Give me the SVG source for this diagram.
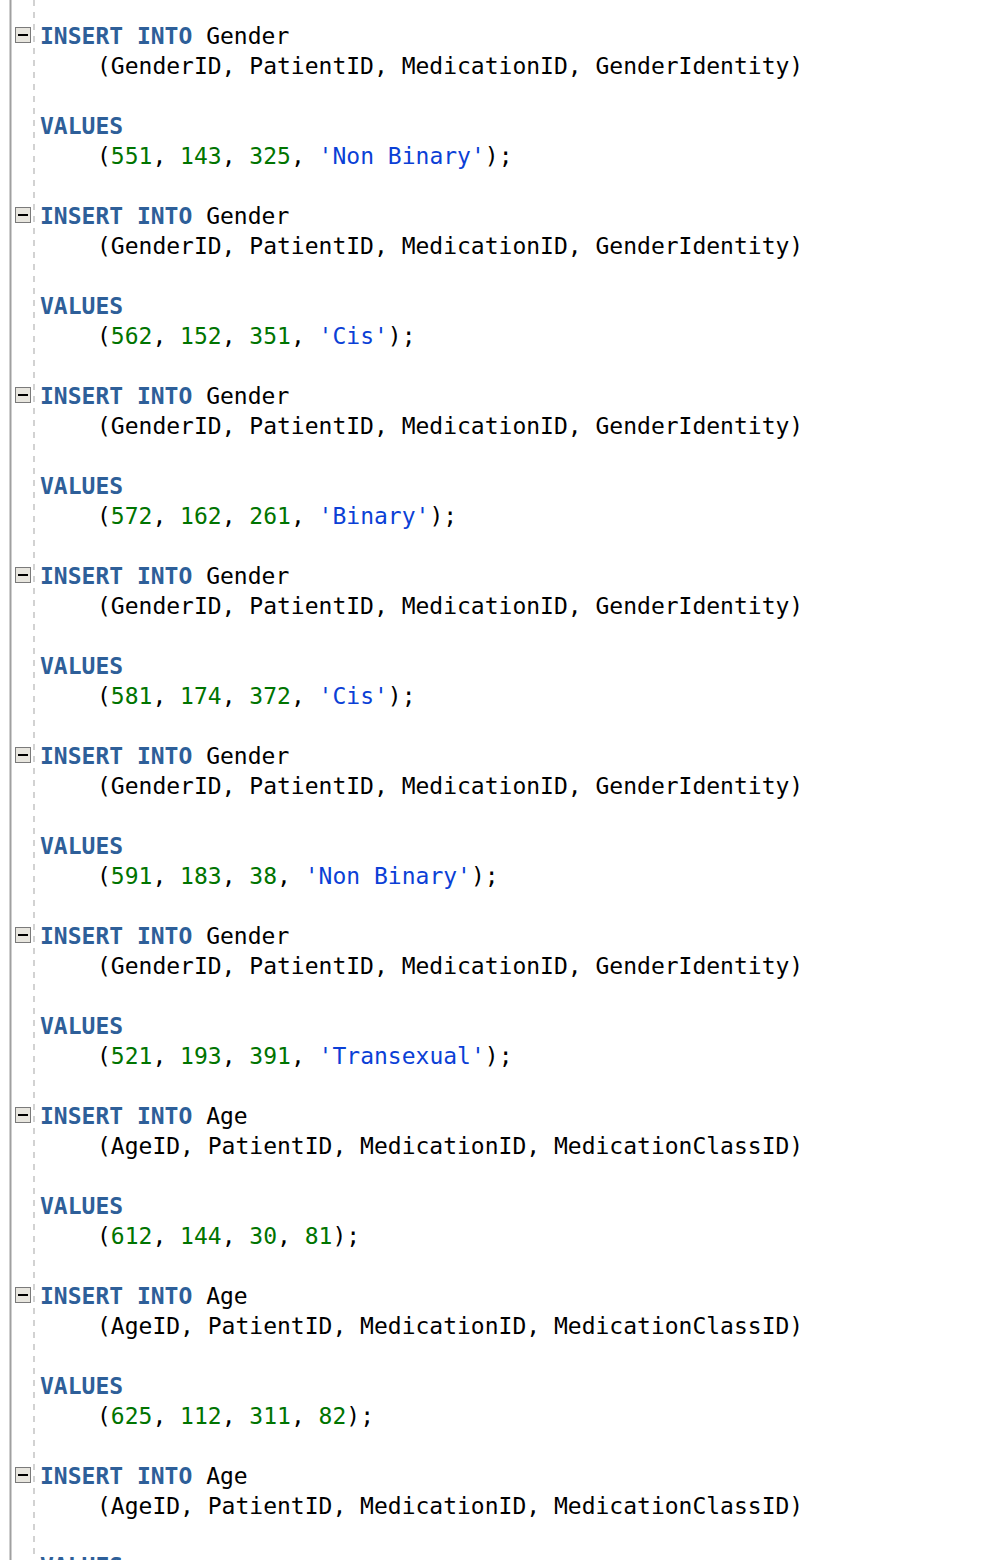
<svg xmlns="http://www.w3.org/2000/svg" width="996" height="1560" viewBox="0 0 996 1560">
<style>
text{font-family:"DejaVu Sans Mono","Liberation Mono",monospace;font-size:23px;fill:#000;white-space:pre}
.k{fill:#2e5f99;font-weight:bold}
.n{fill:#007400}
.s{fill:#0b3fd6}
.f{fill:#e8e6df;stroke:#7a7a7a;stroke-width:1}
</style>
<rect width="996" height="1560" fill="#fff"/>
<line x1="10.5" y1="0" x2="10.5" y2="1560" stroke="#a0a0a0" stroke-width="2"/>
<line x1="34" y1="0" x2="34" y2="1560" stroke="#c4c4c4" stroke-width="1.5" stroke-dasharray="6,6"/>
<defs>
<g id="fold"><rect class="f" x="15.5" y="-16.5" width="15" height="15"/><line x1="18" y1="-9" x2="28" y2="-9" stroke="#000" stroke-width="2"/></g>
</defs>
<g id="b1"><use href="#fold" y="44"/>
<text x="40" y="44"><tspan class="k">INSERT INTO</tspan> Gender</text>
<text x="97" y="74">(GenderID, PatientID, MedicationID, GenderIdentity)</text>
<text x="40" y="134" class="k">VALUES</text>
<text x="97" y="164">(<tspan class="n">551</tspan>, <tspan class="n">143</tspan>, <tspan class="n">325</tspan>, <tspan class="s">'Non Binary'</tspan>);</text></g>
<g id="b2"><use href="#fold" y="224"/>
<text x="40" y="224"><tspan class="k">INSERT INTO</tspan> Gender</text>
<text x="97" y="254">(GenderID, PatientID, MedicationID, GenderIdentity)</text>
<text x="40" y="314" class="k">VALUES</text>
<text x="97" y="344">(<tspan class="n">562</tspan>, <tspan class="n">152</tspan>, <tspan class="n">351</tspan>, <tspan class="s">'Cis'</tspan>);</text></g>
<g id="b3"><use href="#fold" y="404"/>
<text x="40" y="404"><tspan class="k">INSERT INTO</tspan> Gender</text>
<text x="97" y="434">(GenderID, PatientID, MedicationID, GenderIdentity)</text>
<text x="40" y="494" class="k">VALUES</text>
<text x="97" y="524">(<tspan class="n">572</tspan>, <tspan class="n">162</tspan>, <tspan class="n">261</tspan>, <tspan class="s">'Binary'</tspan>);</text></g>
<g id="b4"><use href="#fold" y="584"/>
<text x="40" y="584"><tspan class="k">INSERT INTO</tspan> Gender</text>
<text x="97" y="614">(GenderID, PatientID, MedicationID, GenderIdentity)</text>
<text x="40" y="674" class="k">VALUES</text>
<text x="97" y="704">(<tspan class="n">581</tspan>, <tspan class="n">174</tspan>, <tspan class="n">372</tspan>, <tspan class="s">'Cis'</tspan>);</text></g>
<g id="b5"><use href="#fold" y="764"/>
<text x="40" y="764"><tspan class="k">INSERT INTO</tspan> Gender</text>
<text x="97" y="794">(GenderID, PatientID, MedicationID, GenderIdentity)</text>
<text x="40" y="854" class="k">VALUES</text>
<text x="97" y="884">(<tspan class="n">591</tspan>, <tspan class="n">183</tspan>, <tspan class="n">38</tspan>, <tspan class="s">'Non Binary'</tspan>);</text></g>
<g id="b6"><use href="#fold" y="944"/>
<text x="40" y="944"><tspan class="k">INSERT INTO</tspan> Gender</text>
<text x="97" y="974">(GenderID, PatientID, MedicationID, GenderIdentity)</text>
<text x="40" y="1034" class="k">VALUES</text>
<text x="97" y="1064">(<tspan class="n">521</tspan>, <tspan class="n">193</tspan>, <tspan class="n">391</tspan>, <tspan class="s">'Transexual'</tspan>);</text></g>
<g id="b7"><use href="#fold" y="1124"/>
<text x="40" y="1124"><tspan class="k">INSERT INTO</tspan> Age</text>
<text x="97" y="1154">(AgeID, PatientID, MedicationID, MedicationClassID)</text>
<text x="40" y="1214" class="k">VALUES</text>
<text x="97" y="1244">(<tspan class="n">612</tspan>, <tspan class="n">144</tspan>, <tspan class="n">30</tspan>, <tspan class="n">81</tspan>);</text></g>
<g id="b8"><use href="#fold" y="1304"/>
<text x="40" y="1304"><tspan class="k">INSERT INTO</tspan> Age</text>
<text x="97" y="1334">(AgeID, PatientID, MedicationID, MedicationClassID)</text>
<text x="40" y="1394" class="k">VALUES</text>
<text x="97" y="1424">(<tspan class="n">625</tspan>, <tspan class="n">112</tspan>, <tspan class="n">311</tspan>, <tspan class="n">82</tspan>);</text></g>
<g id="b9"><use href="#fold" y="1484"/>
<text x="40" y="1484"><tspan class="k">INSERT INTO</tspan> Age</text>
<text x="97" y="1514">(AgeID, PatientID, MedicationID, MedicationClassID)</text>
<text x="40" y="1574" class="k">VALUES</text></g>
</svg>
